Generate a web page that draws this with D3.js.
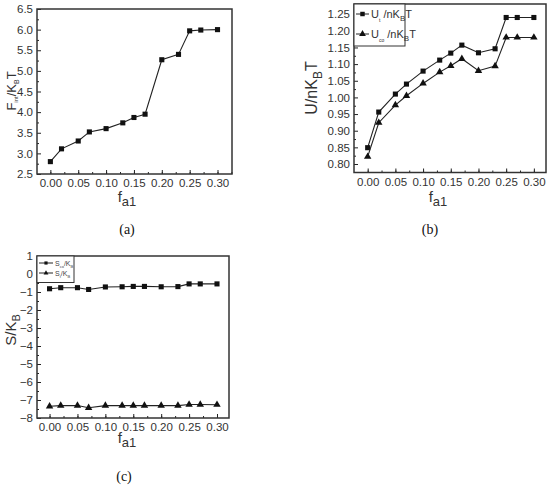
<!DOCTYPE html>
<html>
<head>
<meta charset="utf-8">
<title>Panels</title>
<script src="https://d3js.org/d3.v7.min.js"></script>
<style>
  body { margin: 0; background: #fff; }
  svg { display: block; font-family: "Liberation Sans", Arial, sans-serif; }
  .tick text { fill: #333; }
</style>
</head>
<body>
<div id="chart"></div>
<script>
// shared x values
var fa1 = [0, 0.02, 0.05, 0.07, 0.10, 0.13, 0.15, 0.17, 0.20, 0.23, 0.25, 0.27, 0.30];
var xTicks = [0, 0.05, 0.10, 0.15, 0.20, 0.25, 0.30];

// (a) F_int / K_B T
var fInt = [2.80, 3.11, 3.30, 3.52, 3.60, 3.74, 3.87, 3.95, 5.27, 5.40, 5.97, 5.99, 6.00];
var aTicks = [2.5, 3.0, 3.5, 4.0, 4.5, 5.0, 5.5, 6.0, 6.5];

// (b) U / nK_B T
var uT  = [0.849, 0.956, 1.010, 1.040, 1.079, 1.112, 1.133, 1.157, 1.134, 1.146, 1.240, 1.240, 1.240];
var uCo = [0.822, 0.924, 0.977, 1.005, 1.042, 1.076, 1.095, 1.116, 1.080, 1.094, 1.180, 1.180, 1.180];
var bTicks = [0.80, 0.85, 0.90, 0.95, 1.00, 1.05, 1.10, 1.15, 1.20, 1.25];

// (c) S / K_B
var sCo = [-0.82, -0.76, -0.76, -0.86, -0.72, -0.71, -0.69, -0.69, -0.71, -0.70, -0.55, -0.55, -0.55];
var sT  = [-7.35, -7.31, -7.31, -7.43, -7.31, -7.31, -7.31, -7.31, -7.31, -7.31, -7.25, -7.25, -7.26];
var cTicks = [-8, -7, -6, -5, -4, -3, -2, -1, 0, 1];

var W = 550, H = 486;
var svg = d3.select('#chart').append('svg')
    .attr('width', W)
    .attr('height', H);

var ink = '#222';
var font = '"Liberation Sans", Arial, sans-serif';

function panel(cfg) {
  var x = d3.scaleLinear().domain(cfg.xDomain).range([cfg.left, cfg.right]);
  var y = d3.scaleLinear().domain(cfg.yDomain).range([cfg.bottom, cfg.top]);
  var g = svg.append('g');

  // minor ticks (inside)
  var xMinor = d3.range(-0.025, 0.3251, 0.025).filter(function(v) {
    return v >= cfg.xDomain[0] && v <= cfg.xDomain[1];
  });

  g.append('g')
      .attr('transform', 'translate(0,' + cfg.bottom + ')')
      .call(d3.axisBottom(x).tickValues(xMinor).tickSize(-2).tickFormat(''))
      .call(function(s) { s.select('.domain').remove(); s.selectAll('line').attr('stroke', ink); });
  g.append('g')
      .attr('transform', 'translate(' + cfg.left + ',0)')
      .call(d3.axisLeft(y).tickValues(cfg.yMinor).tickSize(-2).tickFormat(''))
      .call(function(s) { s.select('.domain').remove(); s.selectAll('line').attr('stroke', ink); });

  // major ticks
  var xa = g.append('g')
      .attr('transform', 'translate(0,' + cfg.bottom + ')')
      .call(d3.axisBottom(x).tickValues(xTicks).tickSize(-4).tickPadding(5).tickFormat(d3.format('.2f')));
  xa.attr('font-family', font).attr('font-size', 11.5);
  xa.select('.domain').remove();
  xa.selectAll('line').attr('stroke', ink);

  var ya = g.append('g')
      .attr('transform', 'translate(' + cfg.left + ',0)')
      .call(d3.axisLeft(y).tickValues(cfg.yTicks).tickSize(-4).tickPadding(4).tickFormat(cfg.yFormat));
  ya.attr('font-family', font).attr('font-size', 11.5);
  ya.select('.domain').remove();
  ya.selectAll('line').attr('stroke', ink);

  // frame
  g.append('rect')
      .attr('x', cfg.left).attr('y', cfg.top)
      .attr('width', cfg.right - cfg.left).attr('height', cfg.bottom - cfg.top)
      .attr('fill', 'none').attr('stroke', '#333').attr('stroke-width', 1.5);

  // series
  var line = d3.line().x(function(d) { return x(d[0]); }).y(function(d) { return y(d[1]); });
  cfg.series.forEach(function(s) {
    var pts = fa1.map(function(v, i) { return [v, s.values[i]]; });
    g.append('path').datum(pts)
        .attr('d', line).attr('fill', 'none').attr('stroke', ink).attr('stroke-width', 1.1);
    g.selectAll(null).data(pts).enter().append('path')
        .attr('transform', function(d) { return 'translate(' + x(d[0]) + ',' + y(d[1]) + ')'; })
        .attr('d', d3.symbol().type(s.symbol).size(s.symbol === d3.symbolSquare ? 26 : 24))
        .attr('fill', '#111');
  });

  // x label f_a1
  var xl = g.append('text')
      .attr('x', cfg.xLabelX).attr('y', cfg.xLabelY)
      .attr('text-anchor', 'middle').attr('fill', '#333');
  xl.append('tspan').attr('font-size', 15).text('f');
  xl.append('tspan').attr('font-size', 13).attr('dy', 4).text('a1');

  // panel caption
  g.append('text')
      .attr('x', cfg.capX).attr('y', cfg.capY)
      .attr('text-anchor', 'middle')
      .attr('font-family', '"Liberation Serif", "Times New Roman", serif')
      .attr('font-size', 14).attr('fill', '#111')
      .text(cfg.caption);

  return { g: g, x: x, y: y };
}

// ---- (a)
var pa = panel({
  left: 37, right: 232, top: 9, bottom: 174,
  xDomain: [-0.024, 0.326], yDomain: [2.5, 6.5],
  yTicks: aTicks, yMinor: d3.range(2.75, 6.5, 0.5), yFormat: d3.format('.1f'),
  series: [{ values: fInt, symbol: d3.symbolSquare }],
  xLabelX: 127, xLabelY: 202, capX: 127, capY: 234, caption: '(a)'
});
var yla = pa.g.append('text')
    .attr('transform', 'translate(16,91) rotate(-90)')
    .attr('text-anchor', 'middle').attr('fill', '#333').attr('font-size', 13);
yla.append('tspan').text('F');
yla.append('tspan').attr('font-size', 6).attr('dy', 2).text('int');
yla.append('tspan').attr('dy', -2).text('/K');
yla.append('tspan').attr('font-size', 7).attr('dy', 3).text('B');
yla.append('tspan').attr('dy', -3).text('T');

// ---- (b)
var pb = panel({
  left: 354, right: 546, top: 4, bottom: 172.5,
  xDomain: [-0.0247, 0.3219], yDomain: [0.7745, 1.2805],
  yTicks: bTicks, yMinor: d3.range(0.825, 1.28, 0.05), yFormat: d3.format('.2f'),
  series: [{ values: uT, symbol: d3.symbolSquare }, { values: uCo, symbol: d3.symbolTriangle }],
  xLabelX: 438, xLabelY: 202, capX: 430, capY: 234, caption: '(b)'
});
var ylb = pb.g.append('text')
    .attr('transform', 'translate(317,88) rotate(-90)')
    .attr('text-anchor', 'middle').attr('fill', '#333').attr('font-size', 16);
ylb.append('tspan').text('U/nK');
ylb.append('tspan').attr('font-size', 12).attr('dy', 5).text('B');
ylb.append('tspan').attr('dy', -5).text('T');

// legend (b)
var lgb = pb.g.append('g');
lgb.append('rect').attr('x', 354).attr('y', 4).attr('width', 51).attr('height', 42)
    .attr('fill', '#fff').attr('stroke', '#333').attr('stroke-width', 1);
[{ y: 14, sym: d3.symbolSquare, sub: 't' }, { y: 34, sym: d3.symbolTriangle, sub: 'co' }].forEach(function(e) {
  lgb.append('line').attr('x1', 356).attr('x2', 369).attr('y1', e.y).attr('y2', e.y).attr('stroke', ink);
  lgb.append('path').attr('transform', 'translate(362.5,' + e.y + ')')
      .attr('d', d3.symbol().type(e.sym).size(20)).attr('fill', '#111');
  var t = lgb.append('text').attr('x', 371).attr('y', e.y + 4).attr('fill', '#333').attr('font-size', 11);
  t.append('tspan').text('U');
  t.append('tspan').attr('font-size', 5).attr('dy', 4).text(e.sub);
  t.append('tspan').attr('dy', -4).text(' /nK');
  t.append('tspan').attr('font-size', 8).attr('dy', 3).text('B');
  t.append('tspan').attr('dy', -3).text('T');
});

// ---- (c)
var pc = panel({
  left: 37, right: 229, top: 256, bottom: 418,
  xDomain: [-0.0225, 0.3215], yDomain: [-8, 1],
  yTicks: cTicks, yMinor: d3.range(-7.5, 1, 1), yFormat: d3.format('d'),
  series: [{ values: sCo, symbol: d3.symbolSquare }, { values: sT, symbol: d3.symbolTriangle }],
  xLabelX: 127, xLabelY: 443, capX: 124, capY: 481, caption: '(c)'
});
var ylc = pc.g.append('text')
    .attr('transform', 'translate(16,330) rotate(-90)')
    .attr('text-anchor', 'middle').attr('fill', '#333').attr('font-size', 15);
ylc.append('tspan').text('S/K');
ylc.append('tspan').attr('font-size', 11).attr('dy', 4).text('B');

// legend (c)
var lgc = pc.g.append('g');
lgc.append('rect').attr('x', 37).attr('y', 256).attr('width', 37).attr('height', 26.5)
    .attr('fill', '#fff').attr('stroke', '#333').attr('stroke-width', 1);
[{ y: 263, sym: d3.symbolSquare, sub: 'co' }, { y: 273, sym: d3.symbolTriangle, sub: 't' }].forEach(function(e) {
  lgc.append('line').attr('x1', 39).attr('x2', 53).attr('y1', e.y).attr('y2', e.y).attr('stroke', ink);
  lgc.append('path').attr('transform', 'translate(46,' + e.y + ')')
      .attr('d', d3.symbol().type(e.sym).size(10)).attr('fill', '#111');
  var t = lgc.append('text').attr('x', 55).attr('y', e.y + 2.5).attr('fill', '#444').attr('font-size', 7);
  t.append('tspan').text('S');
  t.append('tspan').attr('font-size', 4).attr('dy', 2).text(e.sub);
  t.append('tspan').attr('dy', -2).text('/K');
  t.append('tspan').attr('font-size', 4).attr('dy', 2).text('B');
});
</script>
</body>
</html>
